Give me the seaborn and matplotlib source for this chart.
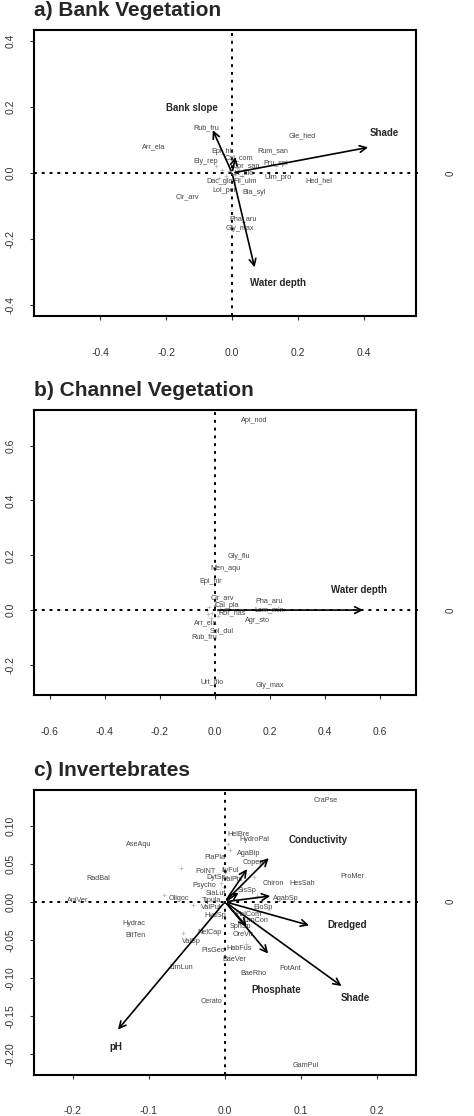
import numpy as np
import pandas as pd
import seaborn as sns
from matplotlib import pyplot as plt

# ---- a) bank vegetation
a_species = ["Rub_fru", "Arr_ela", "Epi_hir", "Ely_rep", "Cal_com", "Cor_san", "Rum_san", "Pru_spi",
             "Gle_hed", "Ulm_pro", "Hed_hel", "Dac_glo", "Fil_ulm", "Lol_per", "Bla_syl", "Cir_arv",
             "Pha_aru", "Gly_max", "Urt_dio"]
a_x = [-0.077, -0.236, -0.028, -0.080, 0.022, 0.042, 0.123, 0.131, 0.212, 0.138, 0.262, -0.039,
       0.039, -0.022, 0.065, -0.136, 0.034, 0.024, 0.030]
a_y = [0.137, 0.079, 0.064, 0.036, 0.046, 0.022, 0.067, 0.030, 0.114, -0.013, -0.023, -0.026,
       -0.023, -0.053, -0.059, -0.073, -0.138, -0.168, 0.000]
a_env = ["Bank slope", "Shade", "Water depth", ""]
a_env_x = [-0.062, 0.420, 0.070, 0.012]
a_env_y = [0.137, 0.079, -0.293, 0.057]
a_lab_x = [-0.122, 0.460, 0.140, 0.0]
a_lab_y = [0.195, 0.122, -0.331, 0.0]
a_pts_x = [-0.03, -0.02, -0.01, 0.01, 0.02, -0.04, 0.00, 0.015, -0.05, 0.03]
a_pts_y = [0.01, -0.01, 0.005, -0.005, 0.01, -0.015, -0.02, 0.015, 0.02, -0.01]

# ---- b) channel vegetation
b_species = ["Api_nod", "Gly_flu", "Men_aqu", "Epi_hir", "Cir_arv", "Cal_pla", "Ror_nas", "Pha_aru",
             "Lem_min", "Agr_sto", "Arr_ela", "Sol_dul", "Rub_fru", "Urt_dio", "Gly_max"]
b_x = [0.143, 0.088, 0.038, -0.017, 0.027, 0.044, 0.063, 0.198, 0.198, 0.153, -0.034, 0.023,
       -0.040, -0.012, 0.198]
b_y = [0.691, 0.196, 0.150, 0.106, 0.046, 0.017, -0.009, 0.034, 0.001, -0.039, -0.045, -0.077,
       -0.097, -0.261, -0.275]
b_env = ["Water depth"]
b_env_x = [0.549]
b_env_y = [0.0]
b_lab_x = [0.525]
b_lab_y = [0.072]
b_pts_x = [-0.02, -0.01, 0.0, 0.01, -0.03, 0.02, -0.015, 0.005, -0.025, 0.015]
b_pts_y = [0.01, -0.01, 0.02, -0.02, 0.0, 0.005, -0.03, 0.03, -0.015, -0.005]

# ---- c) invertebrates
c_species = ["CraPse", "HelBre", "HydroPal", "AseAqu", "AgaBip", "PlaPla", "Copep", "PolNT", "IlyFul",
             "DytSp", "ValPis", "RadBal", "ProMer", "Psycho", "Chiron", "HesSah", "SisSp", "SiaLut",
             "Oligoc", "AniVer", "Tipula", "AgabSp", "ValPul", "EloSp", "HydSp", "HelCom", "LimCon",
             "SphSp", "NelCap", "OreVir", "ValSp", "Hydrac", "BitTen", "PisGeo", "HabFus", "BaeVer",
             "LimLun", "BaeRho", "PotAnt", "Cerato", "GamPul"]
c_x = [0.132, 0.018, 0.039, -0.114, 0.031, -0.013, 0.037, -0.026, 0.006, -0.012, 0.011, -0.166,
       0.168, -0.027, 0.064, 0.101, 0.029, -0.012, -0.060, -0.193, -0.018, 0.080, -0.018, 0.050,
       -0.013, 0.031, 0.041, 0.020, -0.021, 0.024, -0.044, -0.120, -0.118, -0.016, 0.018, 0.012,
       -0.057, 0.038, 0.086, -0.018, 0.106]
c_y = [0.133, 0.088, 0.082, 0.075, 0.064, 0.058, 0.051, 0.040, 0.041, 0.032, 0.029, 0.030,
       0.033, 0.021, 0.024, 0.024, 0.015, 0.011, 0.004, 0.002, 0.002, 0.004, -0.007, -0.008,
       -0.018, -0.017, -0.025, -0.033, -0.041, -0.043, -0.052, -0.029, -0.044, -0.064, -0.062,
       -0.076, -0.087, -0.094, -0.088, -0.131, -0.215]
c_env = ["Conductivity", "", "", "", "Dredged", "Phosphate", "Shade", "", "pH"]
c_env_x = [0.060, 0.031, 0.021, 0.063, 0.114, 0.059, 0.156, 0.031, -0.143]
c_env_y = [0.060, 0.046, 0.014, 0.008, -0.032, -0.071, -0.113, -0.035, -0.171]
c_lab_x = [0.123, 0, 0, 0, 0.161, 0.067, 0.171, 0, -0.144]
c_lab_y = [0.081, 0, 0, 0, -0.031, -0.116, -0.127, 0, -0.191]
c_pts_x = [-0.058, -0.080, -0.042, -0.055, 0.004, 0.006, 0.038, 0.027, -0.001, 0.042, 0.015, -0.005]
c_pts_y = [0.044, 0.009, -0.004, -0.041, 0.076, 0.068, 0.032, -0.056, 0.020, 0.007, 0.033, 0.025]

sns.set_style("white")
plt.rcParams['font.family'] = ['Liberation Sans', 'DejaVu Sans']

fig = plt.figure(figsize=(4.74, 11.16), dpi=100)


def panel(rect, title, title_y, sp, sx, sy, env, ex, ey, lx, ly, px, py,
          xlim, ylim, xticks, yticks, yfmt, pad):
    ax = fig.add_axes(rect)
    fig.text(34 / 474, 1 - title_y / 1116, title, fontsize=15, fontweight='bold',
             ha='left', va='center')
    sns.scatterplot(x=px, y=py, ax=ax, color='#bbbbbb', s=6, marker='+', linewidth=0.6, legend=False)
    for name, x, y in zip(sp, sx, sy):
        ax.text(x, y, name, fontsize=5.2, color='#444444', ha='center', va='center')
    for name, x, y, tx, ty in zip(env, ex, ey, lx, ly):
        ax.annotate("", xy=(x, y), xytext=(0, 0),
                    arrowprops=dict(arrowstyle='->', lw=1.2, color='black', mutation_scale=12))
        if name:
            ax.text(tx, ty, name, fontsize=7, fontweight='bold', ha='center', va='center')
    ax.axhline(0, color='black', ls=(0, (1.5, 2.5)), lw=1.4, xmax=1.01, clip_on=False)
    ax.axvline(0, color='black', ls=(0, (1.5, 2.5)), lw=1.4)
    ax.set_xlim(xlim)
    ax.set_ylim(ylim)
    ax.set_xticks(xticks)
    ax.set_xticklabels([f"{t:.1f}" for t in xticks])
    ax.set_yticks(yticks)
    ax.set_yticklabels([yfmt.format(t) for t in yticks], rotation=90, va='center')
    ax.tick_params(axis='x', length=3, pad=pad, labelsize=7.5, color='#333333', labelcolor='#333333')
    ax.tick_params(axis='y', length=3, pad=10, labelsize=7.5, color='#333333', labelcolor='#333333')
    ax.tick_params(direction='out', bottom=True, left=True)
    for s in ax.spines.values():
        s.set_linewidth(1.5)
        s.set_color('black')
    ax.text(1.09, (0 - ylim[0]) / (ylim[1] - ylim[0]), "0", transform=ax.transAxes,
            rotation=90, fontsize=7, color='#333333', ha='center', va='center')
    return ax


panel([0.0717, 0.7168, 0.806, 0.2563], "a) Bank Vegetation", 10,
      a_species, a_x, a_y, a_env, a_env_x, a_env_y, a_lab_x, a_lab_y, a_pts_x, a_pts_y,
      (-0.6, 0.557), (-0.432, 0.432), [-0.4, -0.2, 0.0, 0.2, 0.4],
      [-0.4, -0.2, 0.0, 0.2, 0.4], "{:.1f}", 20)

panel([0.0717, 0.3772, 0.806, 0.2554], "b) Channel Vegetation", 390,
      b_species, b_x, b_y, b_env, b_env_x, b_env_y, b_lab_x, b_lab_y, b_pts_x, b_pts_y,
      (-0.658, 0.731), (-0.31, 0.73), [-0.6, -0.4, -0.2, 0.0, 0.2, 0.4, 0.6],
      [-0.2, 0.0, 0.2, 0.4, 0.6], "{:.1f}", 20)

panel([0.0717, 0.0367, 0.806, 0.2554], "c) Invertebrates", 770,
      c_species, c_x, c_y, c_env, c_env_x, c_env_y, c_lab_x, c_lab_y, c_pts_x, c_pts_y,
      (-0.251, 0.251), (-0.228, 0.147), [-0.2, -0.1, 0.0, 0.1, 0.2],
      [-0.20, -0.15, -0.10, -0.05, 0.0, 0.05, 0.10], "{:.2f}", 19)

fig.savefig("out.png", dpi=100)
